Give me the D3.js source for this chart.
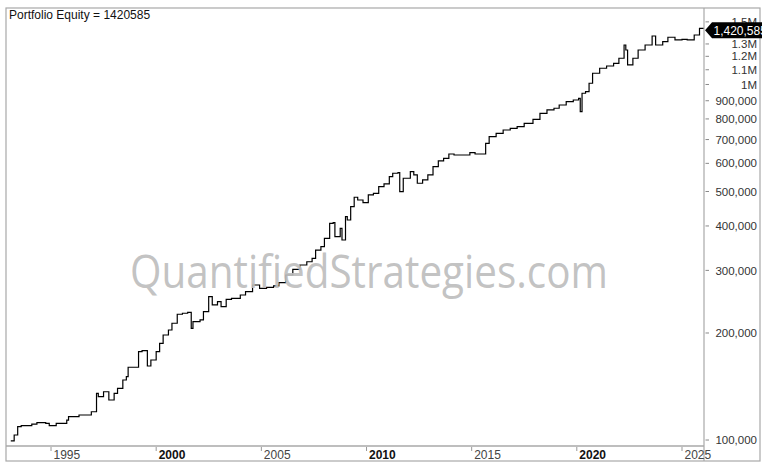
<!DOCTYPE html>
<html>
<head>
<meta charset="utf-8">
<script src="https://cdn.jsdelivr.net/npm/d3@7"></script>
<style>
  html, body { margin: 0; padding: 0; background: #fff; }
  svg { display: block; font-family: Arial, "Liberation Sans", sans-serif; }
</style>
</head>
<body>
<svg id="chart" width="768" height="472"></svg>
<script>
// equity curve (month, portfolio value)
const dates = [
  "1993-02","1993-04","1993-06","1993-08","1994-02","1994-05","1994-10","1994-12",
  "1995-04","1995-10","1995-11","1996-05","1996-09","1996-12","1997-03","1997-04",
  "1997-07","1997-10","1998-01","1998-03","1998-06","1998-08","1998-09","1999-01",
  "1999-03","1999-05","1999-08","1999-10","2000-01","2000-03","2000-05","2000-08",
  "2000-10","2001-01","2001-04","2001-07","2001-09","2001-10","2002-02","2002-04",
  "2002-07","2002-09","2002-12","2003-02","2003-05","2003-08","2004-01","2004-04",
  "2004-08","2004-12","2005-04","2005-08","2005-11","2006-03","2006-07","2006-11",
  "2007-03","2007-06","2007-08","2007-11","2008-01","2008-04","2008-06","2008-07",
  "2008-10","2008-11","2009-01","2009-02","2009-04","2009-06","2009-08","2009-11",
  "2010-02","2010-05","2010-08","2010-11","2011-02","2011-04","2011-07","2011-08",
  "2011-10","2012-02","2012-04","2012-06","2012-09","2012-12","2013-03","2013-06",
  "2013-09","2013-12","2014-03","2014-07","2014-12","2015-03","2015-07","2015-09",
  "2015-11","2016-03","2016-07","2016-11","2017-03","2017-07","2017-12","2018-04",
  "2018-08","2018-12","2019-03","2019-07","2019-11","2020-02","2020-03","2020-04",
  "2020-06","2020-08","2020-10","2021-02","2021-06","2021-10","2022-01","2022-04",
  "2022-05","2022-06","2022-09","2022-12","2023-04","2023-08","2023-10","2024-02",
  "2024-05","2024-09","2025-01","2025-04","2025-08","2025-11","2026-02"
];
const equity = [
  99400,103300,109000,109700,110900,111900,111400,109700,
  111400,113800,116300,117600,117600,120100,135300,132400,
  136700,129600,135300,139800,147500,150700,160200,160200,
  177200,178300,161500,167900,177200,187100,197400,203900,
  213000,225800,227300,228700,206200,215200,217600,229600,
  253000,239800,244900,237100,248800,250400,255800,261300,
  272900,267100,268800,271200,277000,291200,302100,310600,
  317300,324400,342100,349800,369300,407000,408600,373200,
  394000,365200,424700,415700,453300,481700,473300,465100,
  489000,494300,515900,525000,550500,562800,565000,499500,
  544800,568600,556600,527400,538800,556600,587300,610000,
  620000,637500,633400,633400,643000,637500,637500,683200,
  713100,729000,744700,753000,760900,777800,798200,829800,
  847800,857200,875600,894500,904400,914500,838500,944700,
  954500,1007900,1075300,1110700,1127300,1147200,1185000,1291400,
  1250300,1134800,1185000,1250300,1291400,1369000,1291400,1319300,
  1357600,1334200,1340100,1334200,1377900,1439000,1420585
];
const lastValue = 1420585;

// axis ticks
const yTicks = [100000,200000,300000,400000,500000,600000,700000,800000,900000,
  1000000,1100000,1200000,1300000,1500000];
const xTickYears = [1995,2000,2005,2010,2015,2020,2025];

const W = 768, H = 472;
const frame = { left: 6, top: 8, right: 760, bottom: 461 };
const plot = { left: 6, top: 8, right: 704, bottom: 446 };

const parse = d3.timeParse("%Y-%m");
const data = dates.map((d, i) => ({ date: parse(d), value: equity[i] }));

const svg = d3.select("#chart");

const x = d3.scaleTime()
  .domain([new Date(1992, 10, 10), new Date(2026, 0, 18)])
  .range([plot.left, plot.right]);

const y = d3.scaleLog()
  .domain([96200, 1641000])
  .range([plot.bottom, plot.top]);

const borderCol = "#a8a8a8";

// clip for the line
svg.append("defs").append("clipPath").attr("id", "plotClip")
  .append("rect")
  .attr("x", plot.left).attr("y", plot.top)
  .attr("width", plot.right - plot.left).attr("height", plot.bottom - plot.top);

// equity line (stepped, equity only moves when trades close)
const line = d3.line()
  .x(d => x(d.date))
  .y(d => y(d.value))
  .curve(d3.curveStepAfter);

svg.append("path")
  .datum(data)
  .attr("clip-path", "url(#plotClip)")
  .attr("fill", "none")
  .attr("stroke", "#000")
  .attr("stroke-width", 1.2)
  .attr("d", line);

// watermark on top of the line
svg.append("text")
  .attr("x", 130)
  .attr("y", 288)
  .attr("textLength", 478)
  .attr("lengthAdjust", "spacingAndGlyphs")
  .attr("font-family", "'Open Sans', 'DejaVu Sans', sans-serif")
  .attr("font-size", 46)
  .attr("fill", "#bdbdbd")
  .attr("fill-opacity", 0.92)
  .text("QuantifiedStrategies.com");

// frames
svg.append("rect")
  .attr("x", frame.left).attr("y", frame.top)
  .attr("width", frame.right - frame.left).attr("height", frame.bottom - frame.top)
  .attr("fill", "none").attr("stroke", borderCol).attr("stroke-width", 1.2);

svg.append("line")
  .attr("x1", plot.right).attr("x2", plot.right)
  .attr("y1", frame.top).attr("y2", frame.bottom)
  .attr("stroke", borderCol).attr("stroke-width", 1.2);

svg.append("line")
  .attr("x1", plot.left).attr("x2", plot.right)
  .attr("y1", plot.bottom).attr("y2", plot.bottom)
  .attr("stroke", borderCol).attr("stroke-width", 1.5);

// x axis ticks and labels
const xg = svg.append("g");
xTickYears.forEach(yr => {
  const px = x(new Date(yr, 0, 1));
  xg.append("line")
    .attr("x1", px).attr("x2", px)
    .attr("y1", plot.bottom + 1).attr("y2", plot.bottom + 5)
    .attr("stroke", "#999").attr("stroke-width", 1);
  xg.append("text")
    .attr("x", px + 2.5)
    .attr("y", plot.bottom + 12.5)
    .attr("font-size", 12)
    .attr("font-weight", yr % 10 === 0 ? "bold" : "normal")
    .attr("fill", yr % 10 === 0 ? "#111" : "#444")
    .text(yr);
});

// y axis ticks and labels
const fmtY = v => v >= 1000000 ? d3.format("~g")(v / 1000000) + "M" : d3.format(",")(v);
const yg = svg.append("g");
yTicks.forEach(v => {
  const py = y(v);
  yg.append("line")
    .attr("x1", plot.right + 1.5).attr("x2", plot.right + 5)
    .attr("y1", py).attr("y2", py)
    .attr("stroke", "#888").attr("stroke-width", 1);
  yg.append("text")
    .attr("x", 757)
    .attr("y", py)
    .attr("dy", "0.36em")
    .attr("text-anchor", "end")
    .attr("font-size", 11.5)
    .attr("fill", "#333")
    .text(fmtY(v));
});

// last value badge
svg.append("clipPath").attr("id", "badgeClip")
  .append("rect").attr("x", plot.right).attr("y", 0).attr("width", 58).attr("height", 60);
const by = y(lastValue);
const badge = svg.append("g").attr("clip-path", "url(#badgeClip)");
badge.append("path")
  .attr("d", `M${plot.right + 1},${by} L${plot.right + 8},${by - 8} L${W},${by - 8} L${W},${by + 8} L${plot.right + 8},${by + 8} Z`)
  .attr("fill", "#000");
badge.append("text")
  .attr("x", plot.right + 9.5)
  .attr("y", by)
  .attr("dy", "0.36em")
  .attr("font-size", 12)
  .attr("fill", "#fff")
  .text(d3.format(",")(lastValue));

// title
svg.append("text")
  .attr("x", 9)
  .attr("y", 19)
  .attr("font-size", 12)
  .attr("fill", "#111")
  .text("Portfolio Equity = " + lastValue);
</script>
</body>
</html>
